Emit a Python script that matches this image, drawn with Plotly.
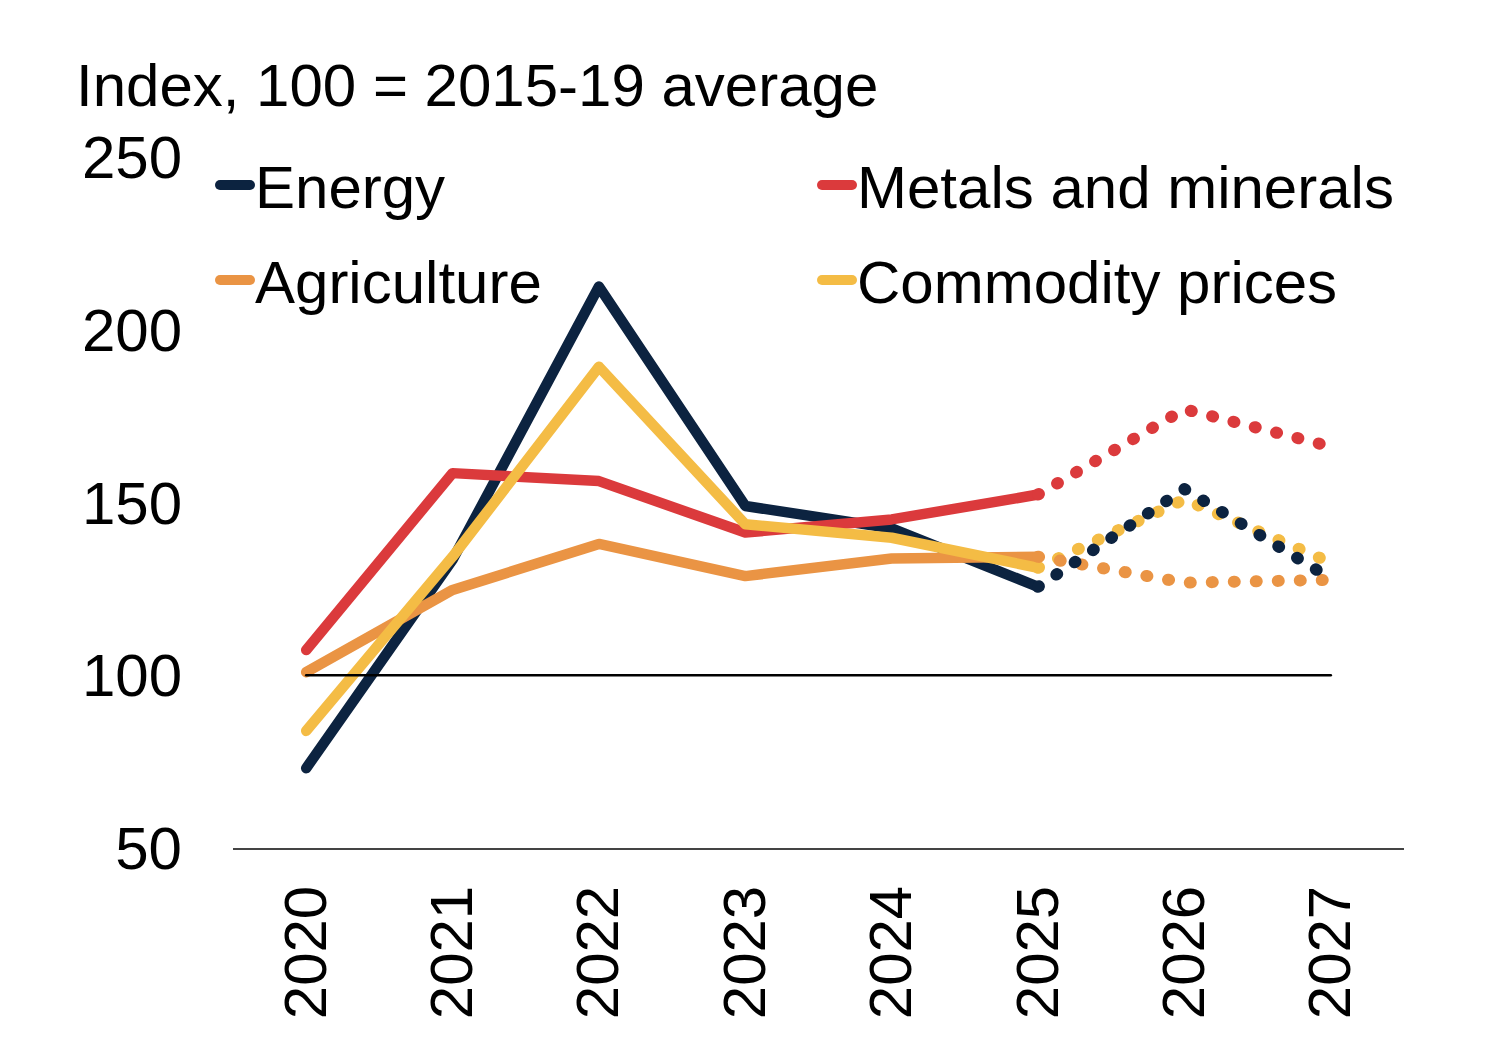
import plotly.graph_objects as go

years = ["2020", "2021", "2022", "2023", "2024", "2025", "2026", "2027"]
energy = [73.1, 133.4, 212.5, 149.0, 142.5, 125.6, 153.9, 128.0]
metals = [107.3, 158.5, 156.2, 141.3, 145.1, 152.3, 177.0, 166.2]
agriculture = [100.9, 124.7, 138.0, 128.7, 133.8, 134.3, 126.8, 127.6]
commodity = [83.9, 134.3, 189.3, 143.7, 139.8, 131.1, 150.9, 132.6]
baseline = [100] * len(years)
n_actual = 6  # 2020-2025 actual, 2025-2027 forecast

names = ["Energy", "Metals and minerals", "Agriculture", "Commodity prices"]
colors = ["#0C2340", "#DB3A3C", "#EA9444", "#F4BC45"]
series = [energy, metals, agriculture, commodity]
legend_ids = ["legend", "legend2", "legend3", "legend4"]

FONT = "Liberation Sans, Arial, sans-serif"
fig = go.Figure()

# solid actual lines
for name, col, vals, lg in zip(names, colors, series, legend_ids):
    fig.add_trace(go.Scatter(
        x=years[:n_actual], y=vals[:n_actual], name=name, mode="lines",
        line=dict(color=col, width=10.5), hoverinfo="skip", legend=lg))

# dotted forecast lines
for idx in [3, 2, 1, 0]:
    fig.add_trace(go.Scatter(
        x=years[n_actual - 1:], y=series[idx][n_actual - 1:], mode="lines",
        line=dict(color=colors[idx], width=12, dash="1px,21px"),
        showlegend=False, hoverinfo="skip"))

# 100 baseline
fig.add_trace(go.Scatter(x=years, y=baseline, mode="lines",
                         line=dict(color="#000000", width=2.5),
                         showlegend=False, hoverinfo="skip"))

leg_common = dict(orientation="h", xanchor="left", yanchor="middle",
                  bgcolor="rgba(0,0,0,0)", font=dict(size=60, family=FONT),
                  itemwidth=30)
col1_x = (215 - 233) / 1171
col2_x = (817 - 233) / 1171
row1_y = (848 - 185) / 691
row2_y = (848 - 280) / 691

fig.update_layout(
    width=1492, height=1056,
    margin=dict(l=233, r=88, t=157, b=208),
    paper_bgcolor="white", plot_bgcolor="white",
    font=dict(family=FONT, size=60, color="#000000"),
    title=dict(text="Index, 100 = 2015-19 average", x=76 / 1492, xanchor="left",
               y=1 - 85 / 1056, yanchor="middle", font=dict(size=60, family=FONT)),
    showlegend=True,
    legend=dict(x=col1_x, y=row1_y, **leg_common),
    legend2=dict(x=col2_x, y=row1_y, **leg_common),
    legend3=dict(x=col1_x, y=row2_y, **leg_common),
    legend4=dict(x=col2_x, y=row2_y, **leg_common),
    xaxis=dict(type="category", range=[-0.5, 7.5], showgrid=False, zeroline=False,
               showline=True, linecolor="#444444", linewidth=1.5, ticks="",
               tickangle=-90, ticklabelstandoff=12,
               tickfont=dict(size=60, family=FONT)),
    yaxis=dict(range=[50, 250], tickvals=[50, 100, 150, 200, 250], showgrid=False,
               zeroline=False, showline=False, ticks="", ticklabelstandoff=50,
               tickfont=dict(size=60, family=FONT)),
)

js = ("var s=document.createElement('style');"
      "s.innerHTML='.js-line{stroke-linecap:round;stroke-linejoin:round;}';"
      "document.head.appendChild(s);")
fig.write_html("out.html", post_script=js)
